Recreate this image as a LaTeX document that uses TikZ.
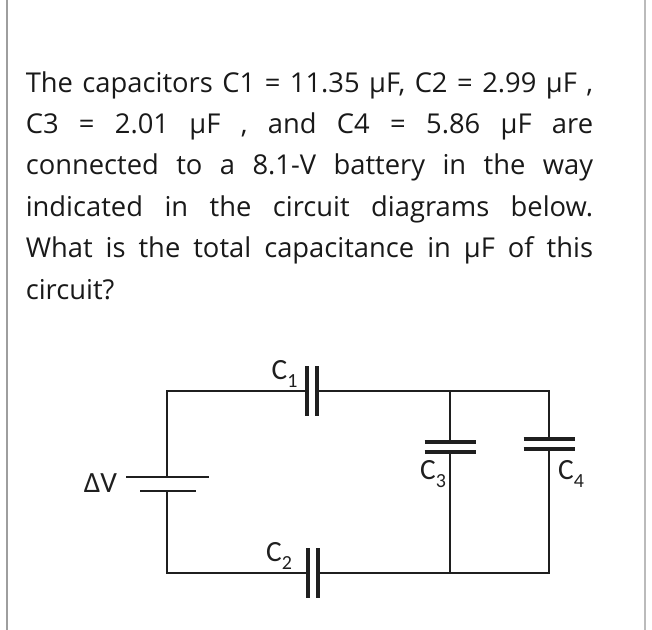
\documentclass[tikz,border=0pt]{standalone}
\usepackage{fontspec}
\setmainfont{Open Sans}
\newfontfamily\labelfont{Carlito}
\usepackage{xcolor}
\definecolor{framegray}{gray}{.62}
\definecolor{wireblack}{gray}{.12}
\newcommand\capsub[1]{\raisebox{-.28em}{\fontsize{15}{15}\selectfont #1}}
\tikzset{
 wire/.style={wireblack, line width=1.6pt},
 plate/.style={wireblack, line width=3pt},
 lbl/.style={inner sep=0, font=\labelfont\fontsize{22}{22}\selectfont, text=wireblack},
}
\begin{document}
\begin{tikzpicture}[x=.75pt, y=-.75pt]
\useasboundingbox (0,0) rectangle (652,630);
\draw[framegray, line width=1.5pt] (7,0)--(7,630);
\draw[framegray!70, line width=1pt] (645,0)--(645,630);
\node[anchor=north west, inner sep=0, text width=425.5pt, align=justify, text=black!90,
 font=\fontsize{20.5}{31.1}\selectfont] (question) at (25.5,71) {%
The capacitors C1 = 11.35 µF, C2 = 2.99 µF ,\linebreak
C3 = 2.01 µF , and C4 = 5.86 µF are\linebreak
connected to a 8.1-V battery in the way\linebreak
indicated in the circuit diagrams below.\linebreak
What is the total capacitance in µF of this\linebreak
circuit?};
% corners and junctions
\coordinate (TL) at (167,391);
\coordinate (BL) at (167,573);
\coordinate (T3) at (450,391);
\coordinate (B3) at (450,573);
\coordinate (T4) at (549,391);
\coordinate (B4) at (549,573);
% plates
\coordinate (batA) at (167,477);
\coordinate (batB) at (167,491);
\coordinate (C1a) at (307,391);
\coordinate (C1b) at (317,391);
\coordinate (C2a) at (308,573);
\coordinate (C2b) at (318,573);
\coordinate (C3a) at (450,442);
\coordinate (C3b) at (450,452);
\coordinate (C4a) at (549,439);
\coordinate (C4b) at (549,449);
\draw[wire] (batA)--(TL)--(C1a);
\draw[wire] (C1b)--(T3)--(T4)--(C4a);
\draw[wire] (T3)--(C3a);
\draw[wire] (batB)--(BL)--(C2a);
\draw[wire] (C2b)--(B3)--(B4)--(C4b);
\draw[wire] (B3)--(C3b);
\draw[wire] (batA) ++(-41,0) --++(83,0);
\draw[wire] (batB) ++(-27,0) --++(56,0);
\foreach \n in {C1a, C1b, C2a, C2b} {
 \draw[plate] (\n) ++(0,-25) --++(0,50);
}
\foreach \n in {C3a, C3b, C4a, C4b} {
 \draw[plate] (\n) ++(-25.5,0) --++(51,0);
}
\node[lbl] (lblV) at (100.5,483) {ΔV};
\node[lbl] (lblC1) at (284.5,374) {C\capsub{1}};
\node[lbl] (lblC2) at (279,556) {C\capsub{2}};
\node[lbl] (lblC3) at (433,474) {C\capsub{3}};
\node[lbl] (lblC4) at (571,474) {C\capsub{4}};
\end{tikzpicture}
\end{document}
